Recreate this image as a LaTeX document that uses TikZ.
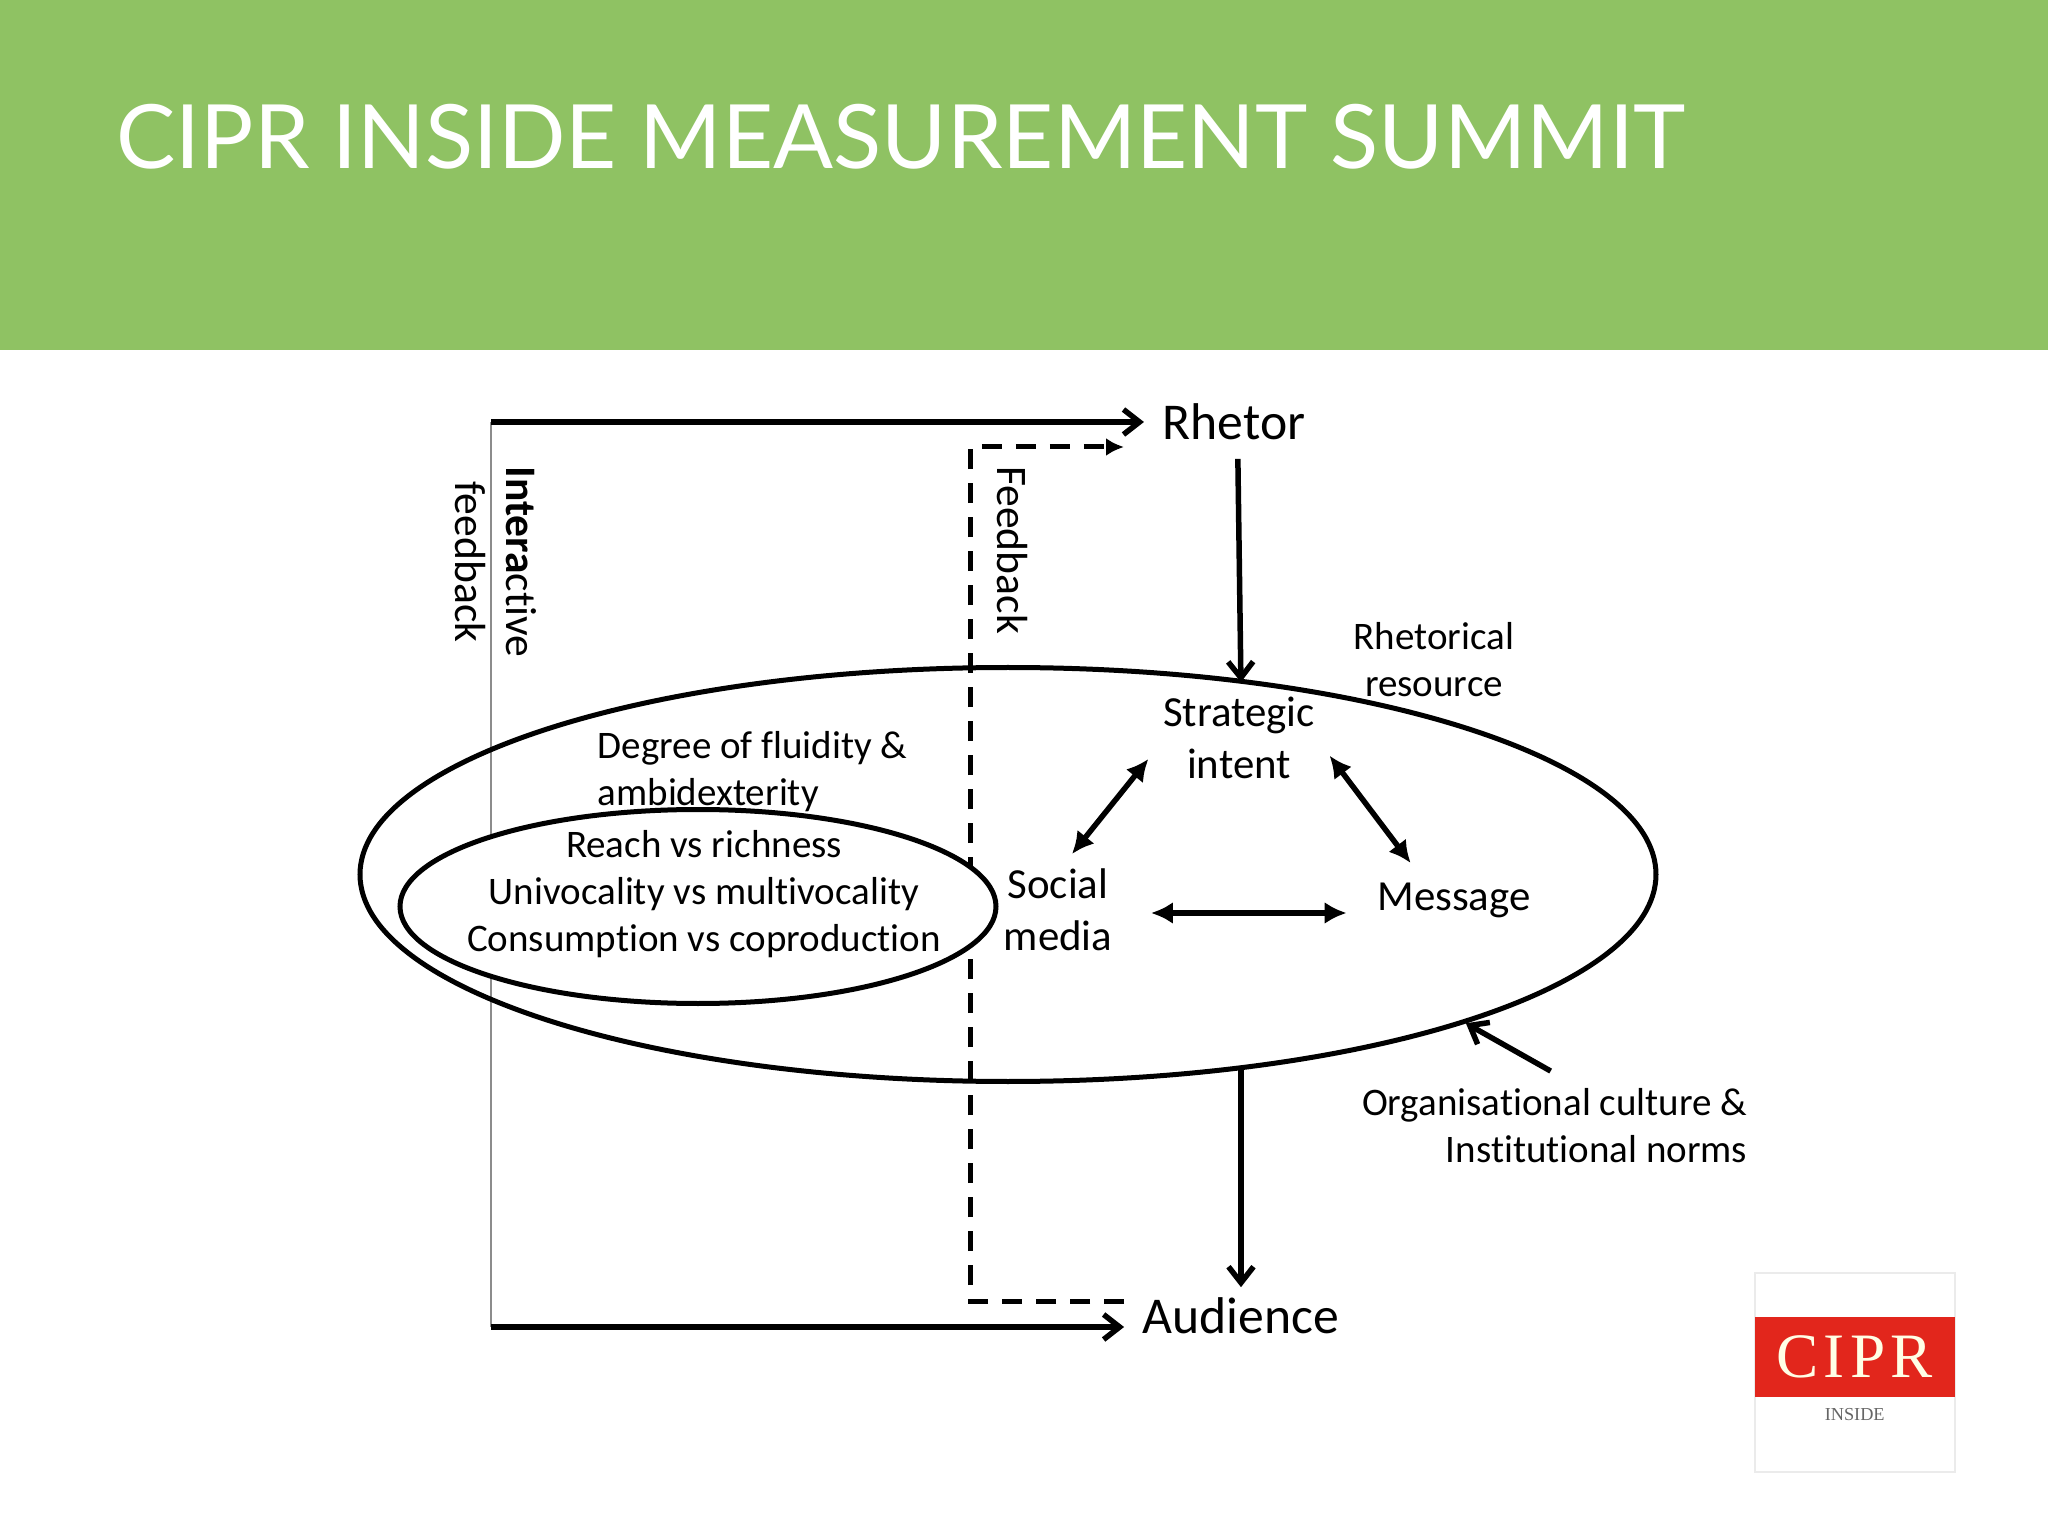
\documentclass[tikz,border=0pt]{standalone}
\usepackage{fontspec}
\setmainfont[Ligatures=NoCommon]{Carlito}
\newfontfamily\titlefont{Lato}
\newfontfamily\logofont{Liberation Serif}
\usetikzlibrary{arrows.meta,shapes.geometric}
\definecolor{headgreen}{HTML}{8FC263}
\definecolor{logored}{HTML}{E2261C}
\begin{document}
\begin{tikzpicture}[node distance=1.5cm]
    \tikzstyle{biglabel} = [inner sep=0.18cm, font=\fontsize{14.7}{17}\selectfont]
    \tikzstyle{midlabel} = [inner sep=0.14cm, align=center, font=\fontsize{12.2}{14.9}\selectfont]
    \tikzstyle{smalllabel} = [inner sep=0.05cm, font=\fontsize{11.1}{13.4}\selectfont]
    \tikzstyle{sidelabel} = [inner sep=0cm, rotate=-90, font=\fontsize{12.4}{14}\selectfont]
    \tikzstyle{ring} = [ellipse, draw=black, line width=0.05cm, inner sep=0cm]
    \tikzstyle{flow} = [line width=0.055cm, -{Straight Barb[length=0.16cm,width=0.25cm,line width=0.055cm]}]
    \tikzstyle{both} = [line width=0.055cm, {Latex[length=0.22cm,width=0.22cm]}-{Latex[length=0.22cm,width=0.22cm]}]
    \tikzstyle{loose} = [line width=0.05cm, dash pattern=on 0.2cm off 0.14cm, -{Latex[length=0.18cm,width=0.18cm]}]

    \useasboundingbox (0,0) rectangle (20.48,-15.36);

    % Header
    \node [anchor=north west, fill=headgreen, minimum width=20.6cm, minimum height=3.55cm, inner sep=0cm] (header) at (-0.06,0.06) {};
    \node [anchor=west, inner sep=0cm, text=white, font=\titlefont\fontsize{25.25}{30}\selectfont] (title) at (1.16,-1.37) {CIPR INSIDE MEASUREMENT SUMMIT};

    % Feedback corners
    \coordinate (ifbtop) at (4.91,-4.22);
    \coordinate (ifbbot) at (4.91,-13.27);
    \coordinate (fbtop) at (11.24,-4.47);
    \coordinate (fbcorner) at (9.70,-13.01);
    \coordinate (fbbot) at (11.24,-13.01);

    % Main labels
    \node [biglabel] (rhetor) at (12.34,-4.22) {Rhetor};
    \node [midlabel, below of=rhetor, xshift=0.05cm, yshift=-1.66cm] (strategic) {Strategic\\intent};
    \node [midlabel, below of=strategic, xshift=-1.81cm, yshift=-0.22cm] (social) {Social\\media};
    \node [midlabel, below of=strategic, xshift=2.15cm, yshift=-0.12cm] (message) {Message};
    \node [biglabel, below of=strategic, xshift=0.02cm, yshift=-4.28cm] (audience) {Audience};

    % Feedback lines
    \draw [black!45, line width=0.012cm] (ifbtop) -- (ifbbot);
    \draw [loose] (fbbot) -- (fbcorner) |- (fbtop);

    % Ellipses
    \node [ring, minimum width=12.96cm, minimum height=4.14cm] (outer) at (10.08,-8.745) {};
    \node [ring, fill=white, minimum width=5.96cm, minimum height=1.94cm] (inner) at (6.98,-9.065) {};

    % Other labels
    \node [smalllabel, align=center] (resource) at (14.34,-6.595) {Rhetorical\\resource};
    \node [smalllabel, align=left, anchor=west] (fluidity) at (5.92,-7.72) {Degree of fluidity \&\\ambidexterity};
    \node [smalllabel, align=center] (tensions) at (7.04,-8.94) {Reach vs richness\\Univocality vs multivocality\\Consumption vs coproduction};
    \node [smalllabel, align=right, anchor=east] (norms) at (17.53,-11.26) {Organisational culture \&\\Institutional norms};
    \node [sidelabel] (interactive) at (5.215,-5.62) {\textbf{Intera}ctive};
    \node [sidelabel] (ifeedback) at (4.705,-5.62) {feedback};
    \node [sidelabel] (feedback) at (10.125,-5.50) {Feedback};

    % Connections
    \draw [flow] (ifbtop) -- (ifbtop -| rhetor.west);
    \draw [flow] (ifbbot) -- (ifbbot -| audience.west);
    \draw [flow] (rhetor.-84) -- (strategic.88);
    \draw [flow] (audience.north |- outer.-39.7) -- ([yshift=-0.08cm]audience.north);
    \draw [flow] ([shift={(-0.04,0.12)}]norms.north) -- (outer.-18.2);
    \draw [both] (social.76) -- (strategic.193);
    \draw [both, shorten >=0.06cm] (strategic.-11) -- (message.141);
    \draw [both] ([shift={(0.24,-0.03)}]social.east) -- ([shift={(-0.16,-0.13)}]message.west);

    % Logo
    \node [draw=black!8, line width=0.02cm, anchor=north west, minimum width=2cm, minimum height=1.99cm, inner sep=0cm] (logo) at (17.54,-12.72) {};
    \node [anchor=north west, fill=logored, text=white!90!yellow, minimum width=2cm, minimum height=0.8cm, inner sep=0cm, font=\logofont\fontsize{18}{18}\selectfont] (logoband) at (17.54,-13.16) {C\kern1.5pt I\kern1.5pt P\kern1.5pt R};
    \node [below of=logoband, yshift=0.92cm, inner sep=0cm, text=black!60, font=\logofont\fontsize{5.2}{6}\selectfont] (logotext) {INSIDE};
\end{tikzpicture}
\end{document}
